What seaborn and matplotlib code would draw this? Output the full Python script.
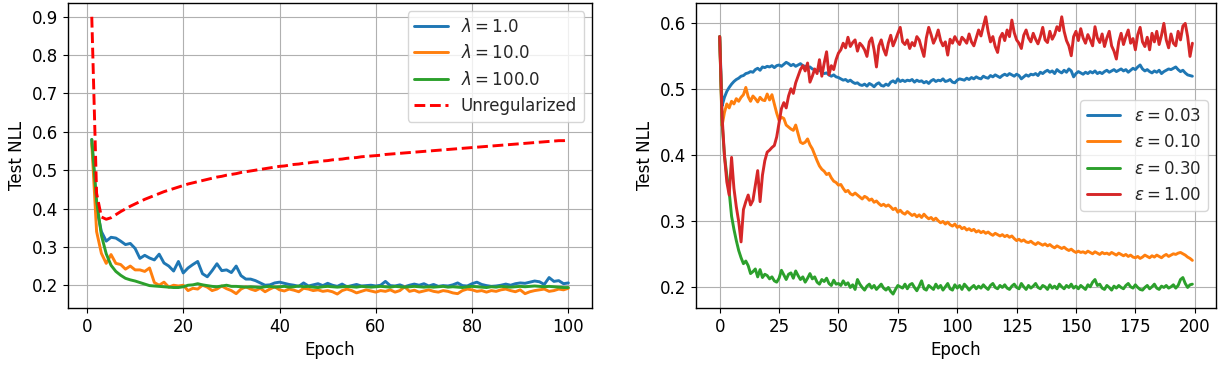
import numpy as np
import matplotlib
matplotlib.use("Agg")
import matplotlib.pyplot as plt
import seaborn as sns

# left panel: regularization strength, epochs 1..100
epochs_l = np.arange(1, 101)
lam_labels = [r'$\lambda=1.0$', r'$\lambda=10.0$', r'$\lambda=100.0$']

lam_1 = [0.580, 0.400, 0.340, 0.315, 0.325, 0.323, 0.315, 0.306, 0.309, 0.296,
         0.270, 0.278, 0.271, 0.266, 0.281, 0.258, 0.250, 0.237, 0.262, 0.232,
         0.245, 0.254, 0.262, 0.230, 0.222, 0.238, 0.256, 0.238, 0.240, 0.233,
         0.250, 0.225, 0.216, 0.216, 0.212, 0.206, 0.200, 0.201, 0.206, 0.208,
         0.205, 0.202, 0.200, 0.197, 0.206, 0.198, 0.201, 0.204, 0.199, 0.205,
         0.200, 0.197, 0.203, 0.196, 0.199, 0.202, 0.198, 0.199, 0.200, 0.198,
         0.200, 0.210, 0.199, 0.198, 0.201, 0.196, 0.200, 0.203, 0.200, 0.204,
         0.198, 0.202, 0.197, 0.199, 0.198, 0.201, 0.206, 0.199, 0.198, 0.204,
         0.208, 0.202, 0.199, 0.197, 0.198, 0.200, 0.203, 0.200, 0.204, 0.206,
         0.205, 0.208, 0.211, 0.209, 0.202, 0.220, 0.210, 0.212, 0.204, 0.206]

lam_10 = [0.570, 0.340, 0.283, 0.257, 0.280, 0.257, 0.254, 0.242, 0.250, 0.240,
          0.240, 0.236, 0.245, 0.207, 0.200, 0.208, 0.195, 0.200, 0.198, 0.200,
          0.186, 0.192, 0.190, 0.200, 0.195, 0.186, 0.190, 0.198, 0.191, 0.186,
          0.178, 0.190, 0.196, 0.190, 0.186, 0.192, 0.183, 0.190, 0.196, 0.188,
          0.185, 0.190, 0.187, 0.183, 0.192, 0.190, 0.186, 0.188, 0.184, 0.186,
          0.183, 0.177, 0.186, 0.190, 0.186, 0.180, 0.184, 0.188, 0.185, 0.182,
          0.186, 0.184, 0.188, 0.182, 0.186, 0.196, 0.184, 0.187, 0.182, 0.185,
          0.188, 0.184, 0.182, 0.186, 0.184, 0.180, 0.178, 0.186, 0.190, 0.188,
          0.184, 0.186, 0.182, 0.186, 0.184, 0.188, 0.190, 0.186, 0.183, 0.188,
          0.178, 0.183, 0.186, 0.188, 0.190, 0.184, 0.186, 0.190, 0.188, 0.192]

lam_100 = [0.580, 0.420, 0.330, 0.282, 0.252, 0.236, 0.226, 0.218, 0.214, 0.211,
           0.207, 0.203, 0.199, 0.198, 0.197, 0.196, 0.195, 0.194, 0.194, 0.196,
           0.200, 0.201, 0.204, 0.201, 0.199, 0.197, 0.196, 0.198, 0.200, 0.197,
           0.197, 0.196, 0.195, 0.196, 0.195, 0.194, 0.196, 0.197, 0.195, 0.196,
           0.197, 0.195, 0.196, 0.198, 0.196, 0.197, 0.195, 0.194, 0.196, 0.197,
           0.196, 0.195, 0.196, 0.197, 0.196, 0.195, 0.197, 0.196, 0.195, 0.196,
           0.197, 0.196, 0.195, 0.197, 0.196, 0.195, 0.196, 0.197, 0.196, 0.195,
           0.196, 0.195, 0.196, 0.197, 0.195, 0.196, 0.195, 0.194, 0.196, 0.197,
           0.196, 0.195, 0.194, 0.196, 0.195, 0.197, 0.196, 0.195, 0.196, 0.197,
           0.196, 0.197, 0.198, 0.197, 0.196, 0.197, 0.196, 0.195, 0.194, 0.194]

unreg = [0.900, 0.440, 0.378, 0.372, 0.376, 0.384, 0.392, 0.399, 0.406, 0.412,
         0.418, 0.424, 0.429, 0.434, 0.439, 0.444, 0.448, 0.452, 0.456, 0.460,
         0.464, 0.467, 0.470, 0.473, 0.476, 0.479, 0.482, 0.484, 0.487, 0.489,
         0.491, 0.494, 0.496, 0.498, 0.500, 0.502, 0.504, 0.506, 0.508, 0.510,
         0.511, 0.513, 0.515, 0.516, 0.518, 0.519, 0.521, 0.522, 0.524, 0.525,
         0.527, 0.528, 0.529, 0.531, 0.532, 0.533, 0.535, 0.536, 0.537, 0.538,
         0.539, 0.541, 0.542, 0.543, 0.544, 0.545, 0.546, 0.547, 0.548, 0.549,
         0.550, 0.551, 0.552, 0.553, 0.554, 0.555, 0.556, 0.557, 0.558, 0.559,
         0.560, 0.561, 0.562, 0.563, 0.564, 0.565, 0.566, 0.567, 0.568, 0.569,
         0.570, 0.571, 0.572, 0.573, 0.574, 0.575, 0.576, 0.577, 0.577, 0.578]

# right panel: epsilon, epochs 0..199
epochs_r = np.arange(0, 200)
eps_labels = [r'$\varepsilon=0.03$', r'$\varepsilon=0.10$', r'$\varepsilon=0.30$', r'$\varepsilon=1.00$']

eps_003 = [0.580, 0.475, 0.488, 0.497, 0.503, 0.508, 0.512, 0.515, 0.517, 0.520,
           0.521, 0.524, 0.525, 0.527, 0.526, 0.530, 0.532, 0.529, 0.534, 0.533,
           0.535, 0.534, 0.536, 0.533, 0.536, 0.537, 0.535, 0.538, 0.541, 0.539,
           0.536, 0.538, 0.535, 0.537, 0.539, 0.536, 0.535, 0.533, 0.534, 0.531,
           0.530, 0.528, 0.529, 0.526, 0.524, 0.525, 0.522, 0.520, 0.522, 0.519,
           0.518, 0.516, 0.514, 0.515, 0.512, 0.514, 0.511, 0.509, 0.510, 0.507,
           0.506, 0.508, 0.505, 0.509, 0.507, 0.504, 0.508, 0.510, 0.506, 0.505,
           0.508, 0.506, 0.511, 0.513, 0.510, 0.516, 0.512, 0.514, 0.512, 0.514,
           0.513, 0.515, 0.511, 0.514, 0.512, 0.513, 0.510, 0.512, 0.509, 0.513,
           0.515, 0.512, 0.514, 0.513, 0.516, 0.512, 0.513, 0.515, 0.511, 0.510,
           0.514, 0.516, 0.515, 0.514, 0.517, 0.515, 0.518, 0.516, 0.519, 0.517,
           0.516, 0.520, 0.518, 0.517, 0.521, 0.519, 0.522, 0.520, 0.518, 0.521,
           0.523, 0.521, 0.524, 0.522, 0.520, 0.523, 0.521, 0.516, 0.519, 0.522,
           0.520, 0.523, 0.522, 0.524, 0.521, 0.526, 0.524, 0.527, 0.529, 0.526,
           0.528, 0.524, 0.530, 0.527, 0.525, 0.529, 0.526, 0.531, 0.528, 0.519,
           0.524, 0.527, 0.525, 0.523, 0.526, 0.524, 0.527, 0.525, 0.528, 0.524,
           0.526, 0.524, 0.527, 0.529, 0.526, 0.528, 0.530, 0.527, 0.529, 0.531,
           0.528, 0.530, 0.526, 0.529, 0.532, 0.530, 0.534, 0.537, 0.531, 0.528,
           0.530, 0.527, 0.525, 0.528, 0.526, 0.529, 0.524, 0.527, 0.529, 0.531,
           0.530, 0.532, 0.534, 0.530, 0.527, 0.529, 0.525, 0.522, 0.521, 0.520]

eps_010 = [0.580, 0.445, 0.465, 0.478, 0.472, 0.482, 0.478, 0.486, 0.482, 0.488,
           0.492, 0.503, 0.489, 0.482, 0.490, 0.486, 0.481, 0.488, 0.484, 0.483,
           0.493, 0.484, 0.492, 0.478, 0.464, 0.453, 0.458, 0.456, 0.446, 0.443,
           0.440, 0.438, 0.446, 0.433, 0.420, 0.418, 0.420, 0.425, 0.416, 0.410,
           0.401, 0.392, 0.384, 0.379, 0.376, 0.371, 0.373, 0.366, 0.361, 0.359,
           0.355, 0.356, 0.350, 0.345, 0.347, 0.342, 0.340, 0.343, 0.340, 0.337,
           0.334, 0.338, 0.336, 0.332, 0.334, 0.329, 0.331, 0.327, 0.324, 0.326,
           0.323, 0.325, 0.322, 0.318, 0.320, 0.314, 0.317, 0.313, 0.311, 0.315,
           0.312, 0.309, 0.311, 0.307, 0.310, 0.306, 0.311, 0.307, 0.304, 0.306,
           0.302, 0.305, 0.301, 0.298, 0.300, 0.296, 0.299, 0.295, 0.293, 0.296,
           0.291, 0.293, 0.289, 0.291, 0.287, 0.289, 0.286, 0.288, 0.284, 0.286,
           0.283, 0.285, 0.282, 0.284, 0.281, 0.279, 0.282, 0.280, 0.278, 0.280,
           0.277, 0.279, 0.276, 0.278, 0.274, 0.271, 0.273, 0.270, 0.272, 0.269,
           0.268, 0.270, 0.267, 0.265, 0.268, 0.266, 0.264, 0.266, 0.263, 0.265,
           0.262, 0.260, 0.263, 0.261, 0.259, 0.261, 0.258, 0.256, 0.258, 0.255,
           0.253, 0.255, 0.253, 0.254, 0.252, 0.255, 0.253, 0.251, 0.254, 0.252,
           0.250, 0.253, 0.251, 0.252, 0.250, 0.253, 0.251, 0.249, 0.252, 0.250,
           0.248, 0.250, 0.247, 0.249, 0.246, 0.245, 0.247, 0.244, 0.246, 0.249,
           0.247, 0.245, 0.248, 0.246, 0.249, 0.247, 0.245, 0.248, 0.250, 0.247,
           0.249, 0.251, 0.250, 0.252, 0.253, 0.251, 0.249, 0.246, 0.244, 0.241]

eps_030 = [0.580, 0.450, 0.400, 0.370, 0.345, 0.308, 0.288, 0.271, 0.256, 0.245,
           0.236, 0.240, 0.233, 0.221, 0.224, 0.228, 0.216, 0.227, 0.215, 0.220,
           0.218, 0.213, 0.216, 0.210, 0.208, 0.214, 0.226, 0.219, 0.212, 0.220,
           0.222, 0.214, 0.225, 0.218, 0.212, 0.216, 0.208, 0.214, 0.221, 0.213,
           0.216, 0.208, 0.205, 0.212, 0.209, 0.214, 0.206, 0.203, 0.211, 0.205,
           0.206, 0.203, 0.210, 0.204, 0.207, 0.200, 0.204, 0.197, 0.212, 0.205,
           0.200, 0.196, 0.202, 0.205, 0.199, 0.203, 0.197, 0.201, 0.205, 0.199,
           0.196, 0.200, 0.194, 0.190, 0.197, 0.203, 0.201, 0.199, 0.205, 0.198,
           0.204, 0.206, 0.200, 0.195, 0.202, 0.210, 0.198, 0.196, 0.203, 0.200,
           0.197, 0.205, 0.199, 0.203, 0.196, 0.201, 0.206, 0.198, 0.196, 0.204,
           0.199, 0.203, 0.197, 0.205, 0.201, 0.196, 0.200, 0.203, 0.198, 0.202,
           0.199, 0.204, 0.200, 0.197, 0.203, 0.206, 0.200, 0.198, 0.203, 0.200,
           0.204, 0.199, 0.197, 0.202, 0.205, 0.200, 0.198, 0.206, 0.201, 0.197,
           0.203, 0.199, 0.202, 0.206, 0.200, 0.198, 0.203, 0.201, 0.197, 0.204,
           0.199, 0.202, 0.198, 0.205, 0.201, 0.198, 0.203, 0.200, 0.205, 0.199,
           0.202, 0.198, 0.203, 0.200, 0.197, 0.204, 0.201, 0.208, 0.212, 0.203,
           0.205, 0.199, 0.197, 0.203, 0.200, 0.196, 0.202, 0.199, 0.203, 0.200,
           0.198, 0.203, 0.206, 0.201, 0.199, 0.204, 0.200, 0.197, 0.196, 0.200,
           0.203, 0.198, 0.201, 0.205, 0.199, 0.197, 0.202, 0.200, 0.203, 0.199,
           0.201, 0.204, 0.199, 0.203, 0.212, 0.215, 0.206, 0.200, 0.204, 0.205]

eps_100 = [0.580, 0.460, 0.400, 0.360, 0.340, 0.397, 0.350, 0.322, 0.300, 0.269,
           0.318, 0.330, 0.340, 0.325, 0.332, 0.355, 0.377, 0.330, 0.370, 0.392,
           0.405, 0.408, 0.412, 0.415, 0.428, 0.450, 0.471, 0.480, 0.472, 0.490,
           0.501, 0.494, 0.510, 0.520, 0.530, 0.536, 0.528, 0.540, 0.511, 0.520,
           0.531, 0.524, 0.545, 0.520, 0.540, 0.557, 0.522, 0.536, 0.530, 0.545,
           0.555, 0.560, 0.570, 0.563, 0.579, 0.565, 0.571, 0.575, 0.558, 0.570,
           0.566, 0.560, 0.550, 0.572, 0.578, 0.560, 0.534, 0.566, 0.575, 0.561,
           0.552, 0.570, 0.582, 0.566, 0.575, 0.585, 0.594, 0.572, 0.568, 0.575,
           0.562, 0.571, 0.566, 0.580, 0.575, 0.562, 0.550, 0.578, 0.594, 0.583,
           0.570, 0.578, 0.590, 0.574, 0.566, 0.572, 0.552, 0.576, 0.570, 0.580,
           0.573, 0.568, 0.579, 0.575, 0.570, 0.584, 0.572, 0.566, 0.578, 0.590,
           0.581, 0.596, 0.610, 0.588, 0.572, 0.580, 0.565, 0.556, 0.578, 0.585,
           0.574, 0.590, 0.580, 0.605, 0.586, 0.575, 0.570, 0.562, 0.582, 0.590,
           0.578, 0.572, 0.585, 0.576, 0.569, 0.580, 0.594, 0.575, 0.571, 0.588,
           0.576, 0.583, 0.595, 0.589, 0.610, 0.588, 0.574, 0.566, 0.551, 0.580,
           0.588, 0.574, 0.592, 0.578, 0.570, 0.583, 0.575, 0.566, 0.595, 0.578,
           0.571, 0.584, 0.565, 0.578, 0.588, 0.566, 0.558, 0.546, 0.572, 0.585,
           0.568, 0.580, 0.590, 0.570, 0.577, 0.560, 0.583, 0.594, 0.572, 0.565,
           0.579, 0.560, 0.585, 0.572, 0.588, 0.568, 0.582, 0.600, 0.575, 0.563,
           0.584, 0.570, 0.566, 0.588, 0.575, 0.596, 0.600, 0.580, 0.550, 0.570]

sns.set_style("ticks", {"axes.grid": True, "grid.color": "#b0b0b0",
                        "axes.edgecolor": "black", "xtick.color": "black",
                        "ytick.color": "black", "axes.labelcolor": "black"})
plt.rcParams['font.family'] = ['DejaVu Sans']
plt.rcParams['mathtext.fontset'] = 'dejavusans'

fs = 12
colors = ['#1f77b4', '#ff7f0e', '#2ca02c', '#d62728']

fig = plt.figure(figsize=(12.22, 3.67), dpi=100)
ax1 = fig.add_axes([0.0556, 0.161, 0.429, 0.831])
ax2 = fig.add_axes([0.5696, 0.161, 0.4255, 0.831])

for vals, lab, c in zip([lam_1, lam_10, lam_100], lam_labels, colors):
    sns.lineplot(x=epochs_l, y=vals, ax=ax1, color=c, linewidth=2.1, label=lab)
sns.lineplot(x=epochs_l, y=unreg, ax=ax1, color='red', linewidth=2.1,
             linestyle='--', label='Unregularized')

for vals, lab, c in zip([eps_003, eps_010, eps_030, eps_100], eps_labels, colors):
    sns.lineplot(x=epochs_r, y=vals, ax=ax2, color=c, linewidth=2.1, label=lab)

for ax in (ax1, ax2):
    ax.set_xlabel('Epoch', fontsize=fs)
    ax.set_ylabel('Test NLL', fontsize=fs)
    ax.tick_params(labelsize=fs, length=3.5, width=0.8, direction='out')
    ax.grid(True, color='#b0b0b0', linewidth=0.8)
    for sp in ax.spines.values():
        sp.set_linewidth(1.0)
        sp.set_color('black')

ax1.set_xticks([0, 20, 40, 60, 80, 100])
ax1.set_yticks([0.2, 0.3, 0.4, 0.5, 0.6, 0.7, 0.8, 0.9])
ax2.set_xticks([0, 25, 50, 75, 100, 125, 150, 175, 200])
ax2.set_yticks([0.2, 0.3, 0.4, 0.5, 0.6])
ax1.margins(x=0.05, y=0.05)
ax2.margins(x=0.05, y=0.05)

ax1.legend(loc='upper right', fontsize=fs)
ax2.legend(loc='center right', fontsize=fs)

fig.savefig('out.png', dpi=100)
